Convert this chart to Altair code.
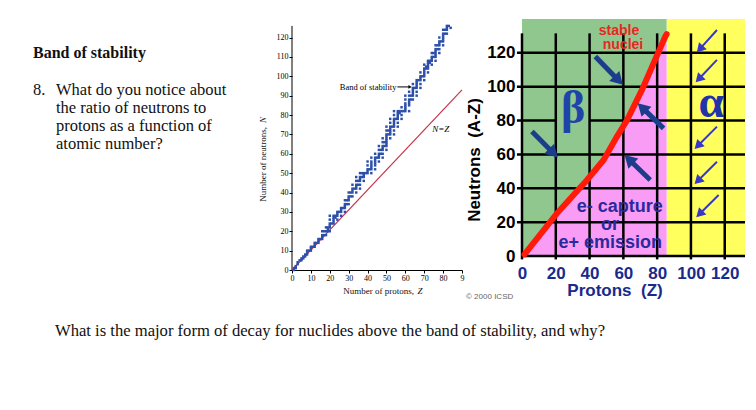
import math
import altair as alt
import pandas as pd

SERIF = "Liberation Serif"
SANS = "Liberation Sans"

# ---------------- worksheet text (page pixel coordinates) ----------------
head_text = ["Band of stability"]
head_x = [33]
head_y = [55]
q_text = ["8.", "What do you notice about", "the ratio of neutrons to",
          "protons as a function of", "atomic number?"]
q_x = [33, 56, 56, 56, 56]
q_y = [92, 92, 110, 128, 146]
bottom_text = ["What is the major form of decay for nuclides above the band of stability, and why?"]
bottom_x = [55]
bottom_y = [333]

# ---------------- left chart: band of stability ----------------
# stable neutron numbers for Z = 1, 2, 3, ...
stable_n = [
    [0, 1], [1, 2], [3, 4], [5], [5, 6], [6, 7], [7, 8], [8, 9, 10], [10], [10, 11, 12],
    [12], [12, 13, 14], [14], [14, 15, 16], [16], [16, 17, 18, 20], [18, 20], [18, 20, 22],
    [20, 21, 22], [20, 22, 23, 24, 26, 28], [24], [24, 25, 26, 27, 28], [27, 28],
    [26, 28, 29, 30], [30], [28, 30, 31, 32], [32], [30, 32, 33, 34, 36], [34, 36],
    [34, 36, 37, 38, 40], [38, 40], [38, 40, 41, 42, 44], [42], [40, 42, 43, 44, 46, 48],
    [44, 46], [42, 44, 46, 47, 48, 50], [48, 50], [46, 48, 49, 50], [50],
    [50, 51, 52, 54, 56], [52], [50, 52, 53, 54, 55, 56, 58], [],
    [52, 54, 55, 56, 57, 58, 60], [58], [56, 58, 59, 60, 62, 64], [60, 62],
    [58, 60, 62, 63, 64, 66, 68], [64, 66], [62, 64, 65, 66, 67, 68, 69, 70, 72, 74],
    [70, 72], [68, 70, 71, 72, 73, 74, 76, 78], [74], [70, 72, 74, 75, 76, 77, 78, 80, 82],
    [78], [74, 76, 78, 79, 80, 81, 82], [81, 82], [78, 80, 82, 84], [82],
    [82, 83, 84, 85, 86, 88, 90], [], [82, 85, 86, 87, 88, 90, 92], [88, 90],
    [88, 90, 91, 92, 93, 94, 96], [94], [90, 92, 94, 95, 96, 97, 98], [98],
    [94, 96, 98, 99, 100, 102], [100], [98, 100, 101, 102, 103, 104, 106], [104, 105],
    [102, 104, 105, 106, 107, 108], [107, 108], [106, 108, 109, 110, 112], [110, 112],
    [108, 110, 111, 112, 113, 114, 116], [114, 116], [112, 114, 116, 117, 118, 120], [118],
    [116, 118, 119, 120, 121, 122, 124], [122, 124], [122, 124, 125, 126], [126], [125],
]
nz_z = [0, 90]
nz_n = [0, 93]

# ---------------- right chart: decay modes ----------------
curve_z = [0, 1.5, 20.7, 38.5, 48.3, 56.2, 62.2, 71.0, 77.9, 84.8, 85.6]
curve_n = [0, 1.0, 25.2, 44.9, 56.7, 70.5, 80.3, 98.1, 113.8, 129.6, 131.0]
alpha_from_z = 85.6
grid_vals = [20, 40, 60, 80, 100, 120]
# horizontal grid segments (the 80 line is interrupted behind the beta)
hseg_y = [0, 20, 40, 60, 80, 80, 100, 120]
hseg_x0 = [0, -3, -3, -3, -3, 40, -3, -3]
hseg_x1 = [132, 132, 132, 132, 20, 132, 132, 132]
thick_x0 = [43.4, 5.9, 83.8, 75.9]
thick_y0 = [117.8, 73.5, 75.4, 44.9]
thick_x1 = [59.2, 20.7, 69.0, 61.2]
thick_y1 = [101.6, 58.7, 89.8, 59.1]
thin_x0 = [115.4, 115.4, 115.4, 115.4, 116.4]
thin_y0 = [133.5, 115.8, 76.4, 55.7, 36.0]
thin_x1 = [103.9, 103.2, 102.6, 102.6, 103.6]
thin_y1 = [120.7, 103.0, 63.6, 42.9, 23.3]

# ---------------- sizes ----------------
P_W, P_H = 284, 394          # text panel, page x 8..292, y 8..402
C1_W, C1_H = 170, 259        # left chart plot (top reaches page y 8)
C2_W, C2_H = 223, 245        # right chart plot (top reaches page y 8)
GAP_W = 60
C1_XD, C1_YD = [0, 90], [0, 133.7]
C1_YMAX = 126
C2_XD, C2_YD = [0, 132], [0, 144.7]
C2_TOP = 140


def spacer(w, h):
    return alt.Chart(pd.DataFrame({"a": [0]})).mark_point(opacity=0).encode(
        x=alt.value(0), y=alt.value(0)).properties(width=w, height=h)


# ---------- text panel ----------
def PX(f):
    return alt.X(f, type="quantitative", scale=alt.Scale(domain=[8, 8 + P_W], nice=False, zero=False), axis=None)


def PY(f):
    return alt.Y(f, type="quantitative", scale=alt.Scale(domain=[8, 8 + P_H], nice=False, zero=False, reverse=True), axis=None)


def ptext(texts, xs, ys, **kw):
    df = pd.DataFrame({"t": texts, "x": xs, "y": ys})
    base = dict(align="left", baseline="alphabetic", font=SERIF, fontSize=16.5, color="#111111")
    base.update(kw)
    return alt.Chart(df).mark_text(**base).encode(x=PX("x"), y=PY("y"), text="t:N")


panel = alt.layer(
    ptext(head_text, head_x, head_y, fontWeight="bold", fontSize=16),
    ptext(q_text, q_x, q_y),
    ptext(bottom_text, bottom_x, bottom_y, fontSize=16.6),
    # left chart axis titles
    ptext(["Number of neutrons,"], [266], [124], angle=270, align="right", fontSize=9),
    ptext(["N"], [266], [117], angle=270, align="center", fontSize=9, fontStyle="italic"),
    ptext(["Number of protons,"], [414], [291], align="right", fontSize=9),
    ptext(["Z"], [420], [291], align="center", fontSize=9, fontStyle="italic"),
    # right chart axis titles
    ptext(["Neutrons\u00a0\u00a0(A-Z)"], [475], [157], angle=270, align="center", baseline="middle",
          font=SANS, fontWeight="bold", fontSize=17, color="black"),
    ptext(["Protons\u00a0\u00a0(Z)"], [615], [288], align="center", baseline="middle",
          font=SANS, fontWeight="bold", fontSize=17, color="#1a2a8c"),
    ptext(["\u00a9 2000 ICSD"], [466], [294], baseline="middle", font=SANS, fontSize=8, color="#666666"),
).properties(width=P_W, height=P_H)

# ---------- left chart ----------
ax1x = alt.Axis(values=list(range(0, 91, 10)), title=None, grid=False, tickSize=3, labelPadding=1,
                labelFont=SERIF, labelFontSize=8, labelColor="black", domainColor="black",
                tickColor="black", labelFlush=False, labelOverlap=False,
                labelExpr="datum.value == 90 ? '9' : datum.label")
ax1y = alt.Axis(values=list(range(0, 121, 10)), title=None, grid=False, tickSize=3, labelPadding=1,
                labelFont=SERIF, labelFontSize=8, labelColor="black", domain=False,
                tickColor="black", labelOverlap=False)


def X1(f):
    return alt.X(f, type="quantitative", scale=alt.Scale(domain=C1_XD, nice=False, zero=False), axis=ax1x)


def Y1(f):
    return alt.Y(f, type="quantitative", scale=alt.Scale(domain=C1_YD, nice=False, zero=False), axis=ax1y)


band_df = pd.DataFrame([{"z": z, "n": n} for z, ns in enumerate(stable_n, start=1) for n in ns])
nz_df = pd.DataFrame({"z": nz_z, "n": nz_n})

chart1 = alt.layer(
    alt.Chart(pd.DataFrame({"z": [0], "n0": [0], "n1": [C1_YMAX]})).mark_rule(
        color="black", strokeWidth=1).encode(x=X1("z"), y=Y1("n0"), y2="n1"),
    alt.Chart(nz_df).mark_line(color="#c8334a", strokeWidth=1.2).encode(x=X1("z"), y=Y1("n")),
    alt.Chart(band_df).mark_square(size=6, color="#2c4ea8", opacity=1).encode(x=X1("z"), y=Y1("n")),
    alt.Chart(pd.DataFrame({"t": ["N=Z"], "z": [78.8], "n": [72.8]})).mark_text(
        font=SERIF, fontStyle="italic", fontSize=9, color="black").encode(x=X1("z"), y=Y1("n"), text="t:N"),
    alt.Chart(pd.DataFrame({"t": ["Band of stability"], "z": [55.3], "n": [94.5]})).mark_text(
        font=SERIF, fontSize=8.5, align="right", baseline="middle", color="black").encode(
        x=X1("z"), y=Y1("n"), text="t:N"),
    alt.Chart(pd.DataFrame({"z0": [55.8], "z1": [62.0], "n": [94.5]})).mark_rule(
        color="black", strokeWidth=1).encode(x=X1("z0"), x2="z1", y=Y1("n")),
    alt.Chart(pd.DataFrame({"z": [62.5], "n": [94.5]})).mark_point(
        shape="triangle-right", filled=True, size=14, color="black", opacity=1).encode(x=X1("z"), y=Y1("n")),
).properties(width=C1_W, height=C1_H)

# ---------- right chart ----------
ax2x = alt.Axis(values=[0] + grid_vals, title=None, grid=False, domain=False, ticks=False,
                labelFont=SANS, labelFontWeight="bold", labelFontSize=17, labelColor="#1a2a8c",
                labelPadding=9, labelFlush=False, labelOverlap=False)
ax2y = alt.Axis(values=[0] + grid_vals, title=None, grid=False, domain=False, ticks=False,
                labelFont=SANS, labelFontWeight="bold", labelFontSize=17, labelColor="black",
                labelPadding=7, labelOverlap=False)


def X2(f):
    return alt.X(f, type="quantitative", scale=alt.Scale(domain=C2_XD, nice=False, zero=False), axis=ax2x)


def Y2(f):
    return alt.Y(f, type="quantitative", scale=alt.Scale(domain=C2_YD, nice=False, zero=False), axis=ax2y)


SX2 = C2_W / (C2_XD[1] - C2_XD[0])
SY2 = C2_H / (C2_YD[1] - C2_YD[0])


def arrow_df(x0s, y0s, x1s, y1s, back):
    rows = []
    for x0, y0, x1, y1 in zip(x0s, y0s, x1s, y1s):
        dxp, dyp = (x1 - x0) * SX2, (y1 - y0) * SY2
        L = math.hypot(dxp, dyp)
        ux, uy = dxp / L, dyp / L
        hx, hy = x1 - back * ux / SX2, y1 - back * uy / SY2
        ang = math.degrees(math.atan2(dxp, dyp)) % 360
        rows.append({"x0": x0, "y0": y0, "hx": hx, "hy": hy, "ang": ang})
    return pd.DataFrame(rows)


curve_df = pd.DataFrame({"z": curve_z, "n": curve_n, "top": [C2_TOP] * len(curve_z),
                         "bot": [0] * len(curve_z)})
yellow_df = pd.DataFrame({"x0": [alpha_from_z], "x1": [C2_XD[1]], "y0": [0], "y1": [C2_TOP]})
vgrid_df = pd.DataFrame({"x": [0] + grid_vals, "y0": [-2] * 7, "y1": [131.5] * 7})
hgrid_df = pd.DataFrame({"y": hseg_y, "x0": hseg_x0, "x1": hseg_x1})
thick_df = arrow_df(thick_x0, thick_y0, thick_x1, thick_y1, 7)
thin_df = arrow_df(thin_x0, thin_y0, thin_x1, thin_y1, 5)


def t2(texts, xs, ys, **kw):
    df = pd.DataFrame({"t": texts, "x": xs, "y": ys})
    base = dict(align="center", baseline="middle", font=SANS, fontWeight="bold")
    base.update(kw)
    return alt.Chart(df).mark_text(**base).encode(x=X2("x"), y=Y2("y"), text="t:N")


chart2 = alt.layer(
    alt.Chart(yellow_df).mark_rect(color="#ffff5e", opacity=1).encode(
        x=X2("x0"), x2="x1", y=Y2("y0"), y2="y1"),
    alt.Chart(curve_df).mark_area(color="#8fc78f", opacity=1).encode(x=X2("z"), y=Y2("n"), y2="top"),
    alt.Chart(curve_df).mark_area(color="#f99cf5", opacity=1).encode(x=X2("z"), y=Y2("n"), y2="bot"),
    alt.Chart(vgrid_df).mark_rule(color="black", strokeWidth=2.5).encode(x=X2("x"), y=Y2("y0"), y2="y1"),
    alt.Chart(hgrid_df).mark_rule(color="black", strokeWidth=2.5).encode(y=Y2("y"), x=X2("x0"), x2="x1"),
    alt.Chart(curve_df.iloc[1:]).mark_line(color="#ff1a0a", strokeWidth=6, strokeCap="round").encode(
        x=X2("z"), y=Y2("n")),
    alt.Chart(thick_df).mark_rule(color="#1c3c8c", strokeWidth=5).encode(
        x=X2("x0"), y=Y2("y0"), x2="hx", y2="hy"),
    alt.Chart(thick_df).mark_point(shape="triangle", filled=True, size=200, color="#1c3c8c", opacity=1).encode(
        x=X2("hx"), y=Y2("hy"), angle=alt.Angle("ang:Q", scale=None)),
    alt.Chart(thin_df).mark_rule(color="#3838c8", strokeWidth=2).encode(
        x=X2("x0"), y=Y2("y0"), x2="hx", y2="hy"),
    alt.Chart(thin_df).mark_point(shape="triangle", filled=True, size=110, color="#3838c8", opacity=1).encode(
        x=X2("hx"), y=Y2("hy"), angle=alt.Angle("ang:Q", scale=None)),
    t2(["stable"], [57.4], [132.9], color="#e8271e", fontSize=14),
    t2(["nuclei"], [59.8], [124.4], color="#e8271e", fontSize=14),
    t2(["\u03b2"], [30.3], [86.6], font=SERIF, fontWeight="bold", fontSize=46, color="#1f44a8"),
    t2(["\u03b1"], [112.1], [90.4], font=SERIF, fontWeight="bold", fontSize=46, color="#2233aa"),
    t2(["e- capture"], [57.8], [28.9], color="#2a2a9c", fontSize=18),
    t2(["or"], [52.1], [18.2], color="#2a2a9c", fontSize=18),
    t2(["e+ emission"], [52.2], [7.5], color="#2a2a9c", fontSize=18),
).properties(width=C2_W, height=C2_H)

chart = alt.hconcat(panel, chart1, spacer(GAP_W, 10), chart2, spacing=0, bounds="flush").properties(
    padding=0, background="white").configure_view(strokeWidth=0)

chart.save("out.html", embed_options={"renderer": "svg", "actions": False})
